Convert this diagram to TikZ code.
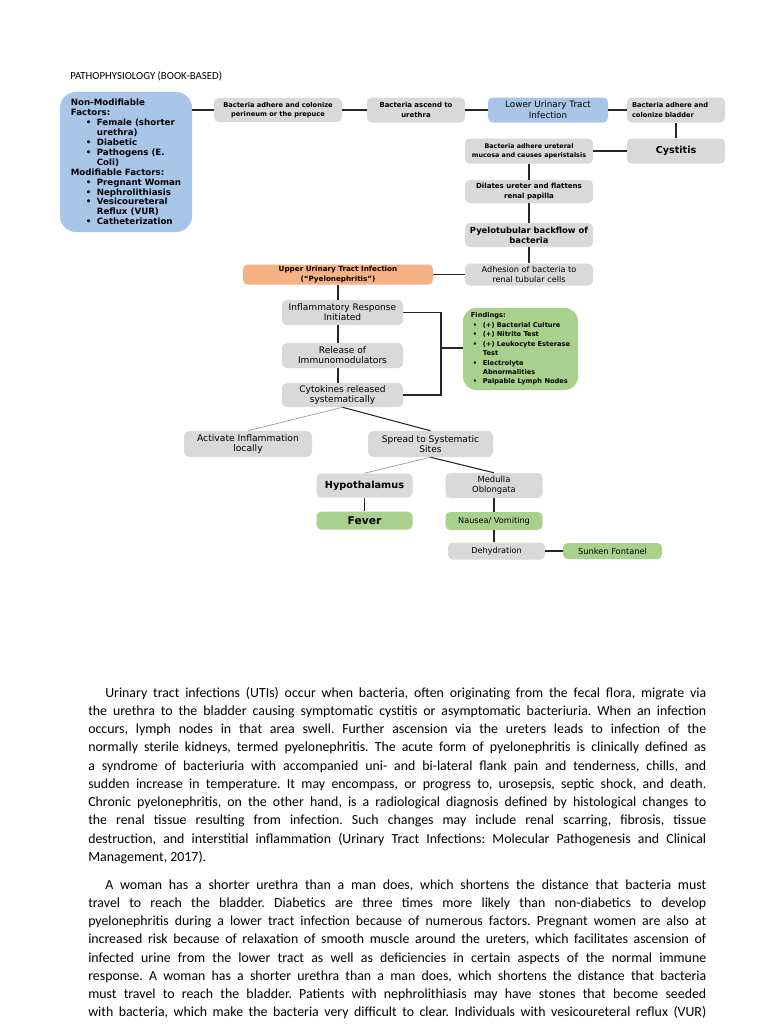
\documentclass[tikz,border=0pt]{standalone}
\usepackage{fontspec}
\setmainfont{Carlito}
\newfontfamily\dvs{DejaVu Sans}
\definecolor{boxgray}{HTML}{D9D9D9}
\definecolor{boxblue}{HTML}{A9C6E8}
\definecolor{boxorange}{HTML}{F4B183}
\definecolor{boxgreen}{HTML}{A9D18E}
\definecolor{linedark}{HTML}{262626}
\definecolor{linegray}{HTML}{9A9A9A}
\newcommand\bul{\hspace*{11.25pt}\makebox[8.25pt][l]{\textbullet}}
\newcommand\cont{\hspace*{19.5pt}}
\newcommand\fbul{\hspace*{1.5pt}\makebox[7.5pt][l]{\textbullet}}
\newcommand\fcont{\hspace*{9pt}}
\newcommand\jl[1]{\hbox to 463.5pt{#1}}
\newcommand\lastl[1]{\hbox{#1}}
\frenchspacing
\tikzset{
  box/.style={rounded corners=3.5pt, align=center, inner sep=0pt},
  gbox/.style={box, fill=boxgray},
  bbox/.style={box, fill=boxblue},
  obox/.style={box, fill=boxorange},
  grbox/.style={box, fill=boxgreen},
  sz/.style 2 args={minimum width=#1*0.75pt, minimum height=#2*0.75pt},
  fs/.style 2 args={font=\dvs\fontsize{#1}{#2}\selectfont},
  fsb/.style 2 args={font=\dvs\bfseries\fontsize{#1}{#2}\selectfont},
  ln/.style={draw=linedark, line width=0.8pt},
  lnl/.style={draw=linegray, line width=0.5pt},
  body/.style={anchor=base west, inner sep=0pt, font=\fontsize{10.4}{13.7}\selectfont},
}
\begin{document}
\begin{tikzpicture}[x=0.75pt, y=-0.75pt]
\fill[white] (0,0) rectangle (768,1024);
\useasboundingbox (0,0) rectangle (768,1024);

% title
\node[anchor=west, inner sep=0pt, font=\fontsize{8.1}{9.6}\selectfont] (title) at (70,76) {PATHOPHYSIOLOGY (BOOK-BASED)};

% risk factors
\node[bbox, sz={132}{140}, rounded corners=12pt, fsb={6.5}{7.45}, align=left] (risk) at (126,162)
 {Non-Modifiable\\Factors:\\\bul Female (shorter\\\cont urethra)\\\bul Diabetic\\\bul Pathogens (E.\\\cont Coli)\\Modifiable Factors:\\\bul Pregnant Woman\\\bul Nephrolithiasis\\\bul Vesicoureteral\\\cont Reflux (VUR)\\\bul Catheterization};

% top row
\node[gbox, sz={128}{24}, fsb={5}{6.8}] (b1) at (278,110) {Bacteria adhere and colonize\\perineum or the prepuce};
\node[gbox, sz={98}{25}, fsb={5.2}{7.5}] (b2) at (416,110) {Bacteria ascend to\\urethra};
\node[bbox, sz={120}{25}, fs={6.6}{8}] (b3) at (548,110) {Lower Urinary Tract\\Infection};
\node[gbox, text width=88*0.75pt, inner xsep=3.75pt, minimum height=25*0.75pt, fsb={5}{7}, align=left] (b4) at (676,110) {Bacteria adhere and\\colonize bladder};
\node[gbox, sz={98}{25}, fsb={7.2}{8}] (cyst) at (676,151) {Cystitis};

% right column
\node[gbox, sz={128}{25}, fsb={4.8}{6.75}] (b5) at (529,151) {Bacteria adhere ureteral\\mucosa and causes aperistalsis};
\node[gbox, sz={128}{23}, fsb={5.3}{7.5}] (b6) at (529,191.5) {Dilates ureter and flattens\\renal papilla};
\node[gbox, sz={128}{24}, fsb={6.3}{7.5}] (b7) at (529,235) {Pyelotubular backflow of\\bacteria};
\node[gbox, sz={128}{22}, fs={6.1}{7.5}] (b8) at (529,274.5) {Adhesion of bacteria to\\renal tubular cells};

% middle column
\node[obox, sz={190}{20}, fsb={5.4}{7}] (upper) at (338,274.5) {Upper Urinary Tract Infection\\(“Pyelonephritis”)};
\node[gbox, sz={121}{25}, fs={6.8}{7.5}] (b9) at (342.5,312.5) {Inflammatory Response\\Initiated};
\node[gbox, sz={121}{25}, fs={6.8}{7.5}] (b10) at (342.5,355.5) {Release of\\Immunomodulators};
\node[gbox, sz={121}{24}, fs={6.8}{7.5}] (b11) at (342.5,395) {Cytokines released\\systematically};

\node[grbox, sz={115}{82}, rounded corners=10pt, fsb={5}{7.1}, align=left] (find) at (520.5,349)
 {Findings:\\\fbul (+) Bacterial Culture\\\fbul (+) Nitrite Test\\\fbul (+) Leukocyte Esterase\\\fcont Test\\\fbul Electrolyte\\\fcont Abnormalities\\\fbul Palpable Lymph Nodes};

\node[gbox, sz={128}{26}, fs={6.9}{7.5}] (b12) at (248,444) {Activate Inflammation\\locally};
\node[gbox, sz={125}{26}, fs={6.8}{7.5}] (b13) at (430.5,444) {Spread to Systematic\\Sites};
\node[gbox, sz={96}{24}, fsb={7.3}{8}] (hyp) at (364.5,485.5) {Hypothalamus};
\node[gbox, sz={97}{25}, fs={6.3}{7.5}] (med) at (494,485.5) {Medulla\\Oblongata};
\node[grbox, sz={96}{18}, fsb={8}{9}] (fever) at (364.5,520.5) {Fever};
\node[grbox, sz={97}{18}, fs={6.1}{7}] (naus) at (494,521) {Nausea/ Vomiting};
\node[gbox, sz={97}{17}, fs={6.1}{7}] (dehyd) at (496.5,551) {Dehydration};
\node[grbox, sz={99}{16}, fs={6.2}{7}] (sunk) at (612.5,551) {Sunken Fontanel};

% connectors
\draw[ln] (b1.west -| risk.east) -- (b1.west);
\draw[ln] (b1) -- (b2);
\draw[ln] (b2) -- (b3);
\draw[ln] (b3) -- (b4);
\draw[ln] (b4) -- (cyst);
\draw[ln] (cyst) -- (b5);
\draw[ln] (b5) -- (b6);
\draw[ln] (b6) -- (b7);
\draw[ln] (b7) -- (b8);
\draw[ln] (b8) -- (upper);
\draw[ln] (upper.south) -- (upper.south |- b9.north);
\draw[ln] (b9.south -| upper.south) -- (b10.north -| upper.south);
\draw[ln] (b10.south -| upper.south) -- (b11.north -| upper.south);
\coordinate (brk) at (441,348);
\draw[ln] (b9.east) -- (b9.east -| brk) -- (b11.east -| brk) -- (b11.east);
\draw[ln] (brk) -- (brk -| find.west);
\draw[lnl] (b11.south) -- (b12.north);
\draw[ln] (b11.south) -- (b13.north);
\draw[lnl] (b13.south) -- (hyp.north);
\draw[ln] (b13.south) -- (med.north);
\draw[ln] (hyp) -- (fever);
\draw[ln] (med) -- (naus);
\draw[ln] (naus.south) -- (naus.south |- dehyd.north);
\draw[ln] (dehyd) -- (sunk);

% body text
\node[body] (p1) at (88,697) {\vtop{\baselineskip=13.7pt
\jl{\hspace*{12.75pt}Urinary tract infections (UTIs) occur when bacteria, often originating from the fecal flora, migrate via}
\jl{the urethra to the bladder causing symptomatic cystitis or asymptomatic bacteriuria. When an infection}
\jl{occurs, lymph nodes in that area swell. Further ascension via the ureters leads to infection of the}
\jl{normally sterile kidneys, termed pyelonephritis. The acute form of pyelonephritis is clinically defined as}
\jl{a syndrome of bacteriuria with accompanied uni- and bi-lateral flank pain and tenderness, chills, and}
\jl{sudden increase in temperature. It may encompass, or progress to, urosepsis, septic shock, and death.}
\jl{Chronic pyelonephritis, on the other hand, is a radiological diagnosis defined by histological changes to}
\jl{the renal tissue resulting from infection. Such changes may include renal scarring, fibrosis, tissue}
\jl{destruction, and interstitial inflammation (Urinary Tract Infections: Molecular Pathogenesis and Clinical}
\lastl{Management, 2017).}}};

\node[body] (p2) at (88,889) {\vtop{\baselineskip=13.7pt
\jl{\hspace*{12.75pt}A woman has a shorter urethra than a man does, which shortens the distance that bacteria must}
\jl{travel to reach the bladder. Diabetics are three times more likely than non-diabetics to develop}
\jl{pyelonephritis during a lower tract infection because of numerous factors. Pregnant women are also at}
\jl{increased risk because of relaxation of smooth muscle around the ureters, which facilitates ascension of}
\jl{infected urine from the lower tract as well as deficiencies in certain aspects of the normal immune}
\jl{response. A woman has a shorter urethra than a man does, which shortens the distance that bacteria}
\jl{must travel to reach the bladder. Patients with nephrolithiasis may have stones that become seeded}
\jl{with bacteria, which make the bacteria very difficult to clear. Individuals with vesicoureteral reflux (VUR)}}};
\end{tikzpicture}
\end{document}
